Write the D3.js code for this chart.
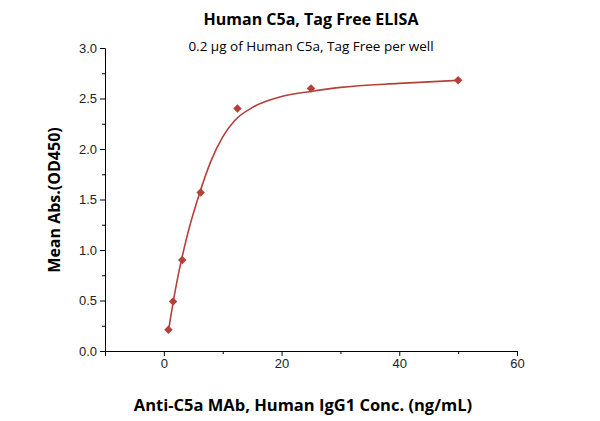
<!DOCTYPE html>
<html><head><meta charset="utf-8">
<script src="https://cdn.jsdelivr.net/npm/d3@7"></script>
<style>body{margin:0;background:#fff;font-family:"Open Sans",Arial,sans-serif}</style>
</head><body><svg width="600" height="421"></svg>
<script>
// measured points
var conc = [0.78, 1.56, 3.125, 6.25, 12.5, 25, 50];
var od = [0.21, 0.49, 0.9, 1.57, 2.4, 2.6, 2.68];
// fitted curve
var fitX = [0.78, 2, 4, 6, 8, 10, 12, 15, 20, 25, 30, 40, 50];
var fitY = [0.2, 0.62, 1.15, 1.55, 1.88, 2.12, 2.28, 2.41, 2.52, 2.57, 2.61, 2.65, 2.68];
var xTicks = [0, 20, 40, 60];
var yTicks = [0, 0.5, 1, 1.5, 2, 2.5, 3];

var svg = d3.select('svg');
var color = '#b5403a';
var x = d3.scaleLinear().domain([-10, 60]).range([105, 517]);
var y = d3.scaleLinear().domain([0, 3]).range([351, 48]);

svg.append('g')
  .attr('transform', 'translate(0,351)')
  .call(d3.axisBottom(x).tickValues(xTicks).tickSizeOuter(0).tickSize(5))
  .call(g => g.selectAll('text').attr('font-size', 13).attr('fill', '#222'));
svg.append('g')
  .attr('transform', 'translate(0,351)')
  .call(d3.axisBottom(x).tickValues([-10, 10, 30, 50]).tickFormat('').tickSize(3))
  .call(g => g.select('.domain').remove());
svg.append('g')
  .attr('transform', 'translate(105,0)')
  .call(d3.axisLeft(y).tickValues(yTicks).tickFormat(d3.format('.1f')).tickSizeOuter(0).tickSize(5))
  .call(g => g.selectAll('text').attr('font-size', 13).attr('fill', '#222'));
svg.append('g')
  .attr('transform', 'translate(105,0)')
  .call(d3.axisLeft(y).tickValues([0.25, 0.75, 1.25, 1.75, 2.25, 2.75]).tickFormat('').tickSize(3))
  .call(g => g.select('.domain').remove());

var line = d3.line().x((d, i) => x(fitX[i])).y(d => y(d)).curve(d3.curveMonotoneX);
svg.append('path').attr('d', line(fitY)).attr('fill', 'none')
  .attr('stroke', color).attr('stroke-width', 1.6);

svg.selectAll('.pt').data(od).enter().append('path')
  .attr('d', d3.symbol(d3.symbolSquare, 36)())
  .attr('transform', (d, i) => 'translate(' + x(conc[i]) + ',' + y(d) + ') rotate(45)')
  .attr('fill', color);

svg.append('text').attr('x', 311).attr('y', 25).attr('text-anchor', 'middle')
  .attr('font-size', 16).attr('font-weight', 'bold').text('Human C5a, Tag Free ELISA');
svg.append('text').attr('x', 311).attr('y', 51).attr('text-anchor', 'middle')
  .attr('font-size', 13.5).text('0.2 μg of Human C5a, Tag Free per well');
svg.append('text').attr('x', 303).attr('y', 411).attr('text-anchor', 'middle')
  .attr('font-size', 16.5).attr('font-weight', 'bold').text('Anti-C5a MAb, Human IgG1 Conc. (ng/mL)');
svg.append('text').attr('transform', 'rotate(-90)').attr('x', -200).attr('y', 60)
  .attr('text-anchor', 'middle').attr('font-size', 16).attr('font-weight', 'bold')
  .text('Mean Abs.(OD450)');
</script></body></html>
